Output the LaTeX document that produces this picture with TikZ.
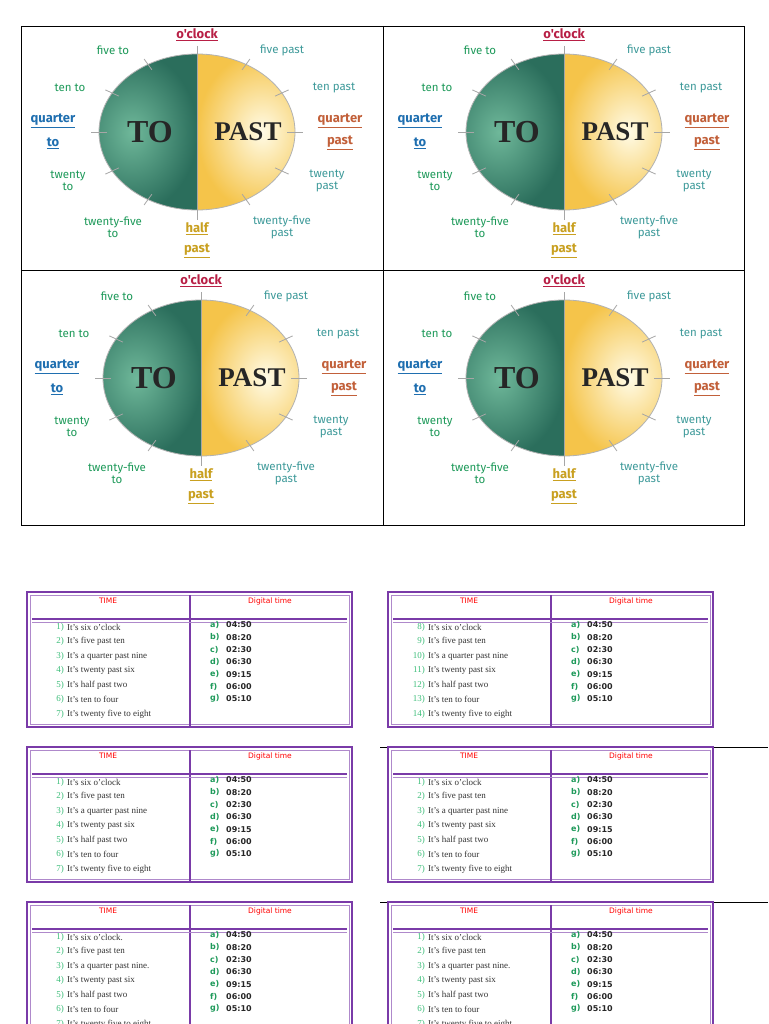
\documentclass[tikz,border=0pt]{standalone}
\usepackage{fontspec}
\setmainfont{Liberation Serif}
\newfontfamily\lblfont{Fira Sans}
\newfontfamily\hdfont{DejaVu Sans}
\definecolor{cgreen}{HTML}{1E9A5A}
\definecolor{cteal}{HTML}{3E9A9A}
\definecolor{cblue}{HTML}{1F6FB0}
\definecolor{corange}{HTML}{C2603A}
\definecolor{cgold}{HTML}{C9A020}
\definecolor{ccrim}{HTML}{B81F45}
\definecolor{cpurp}{HTML}{7A3BA8}
\definecolor{tgreen}{HTML}{3DBE7A}
\definecolor{gin}{HTML}{6FB89A}
\definecolor{gout}{HTML}{2B6E5C}
\definecolor{yin}{HTML}{FFFBE6}
\definecolor{yout}{HTML}{F5C44A}
\tikzset{
 lg/.style={font=\lblfont\fontsize{11.5}{12}\selectfont,text=cgreen,align=center,inner sep=0pt},
 lt/.style={font=\lblfont\fontsize{11.5}{12}\selectfont,text=cteal,align=center,inner sep=0pt},
 lu/.style={font=\lblfont\bfseries\fontsize{13}{13}\selectfont,inner sep=0pt},
 big/.style={font=\bfseries\fontsize{32}{32}\selectfont,text=black!85,inner sep=0pt},
 tick/.style={draw=gray!70,line width=0.8pt},
 hd/.style={font=\hdfont\fontsize{7.5}{8}\selectfont,text=red,inner sep=0pt},
 it/.style={font=\fontsize{9}{10}\selectfont,text=black!80,anchor=west,inner sep=0pt},
 num/.style={font=\fontsize{9}{10}\selectfont,text=tgreen,anchor=east,inner sep=0pt},
 dl/.style={font=\hdfont\bfseries\fontsize{8}{8}\selectfont,text=cgreen,anchor=west,inner sep=0pt},
 dt/.style={font=\hdfont\bfseries\fontsize{8}{8}\selectfont,text=black!85,anchor=west,inner sep=0pt},
 pl/.style={draw=cpurp,line width=2pt},
}
\newcommand{\clockpanel}[3]{%
\begin{scope}[shift={(#1,#2)}]
 \begin{scope}
  \clip (0,0) ellipse [x radius=98,y radius=78];
  \shade[inner color=gin,outer color=gout] (-130,-80) rectangle (0,80);
  \shade[inner color=yin,outer color=yout] (0,-80) rectangle (130,80);
 \end{scope}
 \draw[gray!60,line width=0.8pt] (0,0) ellipse [x radius=98,y radius=78];
 \draw[tick] (0,-86) -- (0,88);
 \foreach \a in {30,60,120,150,180,210,240,300,330,0}{
  \draw[tick] ({0.92*98*cos(\a)},{-0.92*78*sin(\a)}) -- ({1.08*98*cos(\a)},{-1.08*78*sin(\a)});}
 \node[big] (#3to) at (-47,0) {TO};
 \node[big,font=\bfseries\fontsize{27}{27}\selectfont] (#3past) at (51,0) {PAST};
 \node[lu,text=ccrim] (#3oc) at (0,-97) {\underline{o'clock}};
 \node[lg] (#3a) at (-84,-82) {five to};
 \node[lt] (#3b) at (85,-82) {five past};
 \node[lg] (#3c) at (-127,-44) {ten to};
 \node[lt] (#3d) at (137,-44) {ten past};
 \node[lu,text=cblue] (#3e) at (-144,-11) {\underline{quarter}};
 \node[lu,text=cblue] (#3f) at (-144,11) {\underline{to}};
 \node[lu,text=corange] (#3g) at (143,-11) {\underline{quarter}};
 \node[lu,text=corange] (#3h) at (143,11) {\underline{past}};
 \node[lg] (#3i) at (-129,49) {twenty\\to};
 \node[lt] (#3j) at (130,49) {twenty\\past};
 \node[lg] (#3k) at (-84,95) {twenty-five\\to};
 \node[lt] (#3l) at (85,95) {twenty-five\\past};
 \node[lu,text=cgold] (#3m) at (0,97) {\underline{half}};
 \node[lu,text=cgold] (#3n) at (0,119) {\underline{past}};
\end{scope}}
\newcommand{\tbl}[9]{%
\begin{scope}[shift={(#1,#2)}]
 \draw[pl] (0,0) rectangle (325,135);
 \draw[cpurp!60,line width=0.6pt] (3,3) rectangle (322,132);
 \draw[pl] (163,3) -- (163,135);
 \draw[pl] (5,27) -- (320,27);
 \draw[cpurp!60,line width=0.6pt] (5,30) -- (320,30);
 \node[hd] (#3h1) at (81,9) {TIME};
 \node[hd] (#3h2) at (243,9) {Digital time};
 \node[num] (#3n1) at (37,35) {#4)}; \node[it] at (40,35) {#5};
 \node[num] at (37,49.5) {#6)}; \node[it] at (40,49.5) {It's five past ten};
 \node[num] at (37,64) {#7)}; \node[it] at (40,64) {It's a quarter past nine#8};
 \node[num] at (37,78.5) {#9};
\end{scope}}
\newcommand{\tblrest}[4]{%
\begin{scope}[shift={(#1,#2)}]
 \node[it] at (40,78.5) {It's twenty past six};
 \node[num] at (37,93) {#3}; \node[it] at (40,93) {It's half past two};
 \node[num] at (37,107.5) {#4}; \node[it] at (40,107.5) {It's ten to four};
 \foreach \l/\t [count=\i from 0] in {a/04:50,b/08:20,c/02:30,d/06:30,e/09:15,f/06:00,g/05:10}{
  \node[dl] at (183,{33+12.3*\i}) {\l)};
  \node[dt] at (199,{33+12.3*\i}) {\t};}
\end{scope}}
\newcommand{\tblseven}[3]{%
\begin{scope}[shift={(#1,#2)}]
 \node[num] at (37,122) {#3}; \node[it] at (40,122) {It's twenty five to  eight};
\end{scope}}
\begin{document}
\begin{tikzpicture}[x=1pt,y=-1pt]
\useasboundingbox[fill=white] (0,0) rectangle (768,1024);
\begin{scope}
\clip (0,0) rectangle (768,1024);
\draw[black,line width=0.6pt] (21,26) rectangle (744,525);
\draw[black,line width=0.6pt] (383,26) -- (383,525);
\draw[black,line width=0.6pt] (21,270) -- (744,270);
\clockpanel{197}{132}{A}
\clockpanel{564}{132}{B}
\clockpanel{201}{378}{C}
\clockpanel{564}{378}{D}
\draw[black,line width=0.8pt] (380,747) -- (768,747);
\draw[black,line width=0.8pt] (380,902) -- (768,902);
\tbl{27}{592}{T1}{1}{It's six o'clock}{2}{3}{}{4)}
\tblrest{27}{592}{5)}{6)}\tblseven{27}{592}{7)}
\tbl{388}{592}{T2}{8}{It's six o'clock}{9}{10}{}{11)}
\tblrest{388}{592}{12)}{13)}\tblseven{388}{592}{14)}
\tbl{27}{747}{T3}{1}{It's six o'clock}{2}{3}{}{4)}
\tblrest{27}{747}{5)}{6)}\tblseven{27}{747}{7)}
\tbl{388}{747}{T4}{1}{It's six o'clock}{2}{3}{}{4)}
\tblrest{388}{747}{5)}{6)}\tblseven{388}{747}{7)}
\tbl{27}{902}{T5}{1}{It's six o'clock.}{2}{3}{.}{4)}
\tblrest{27}{902}{5)}{6)}\tblseven{27}{902}{7)}
\tbl{388}{902}{T6}{1}{It's six o'clock}{2}{3}{.}{4)}
\tblrest{388}{902}{5)}{6)}\tblseven{388}{902}{7)}
\end{scope}
\end{tikzpicture}
\end{document}
